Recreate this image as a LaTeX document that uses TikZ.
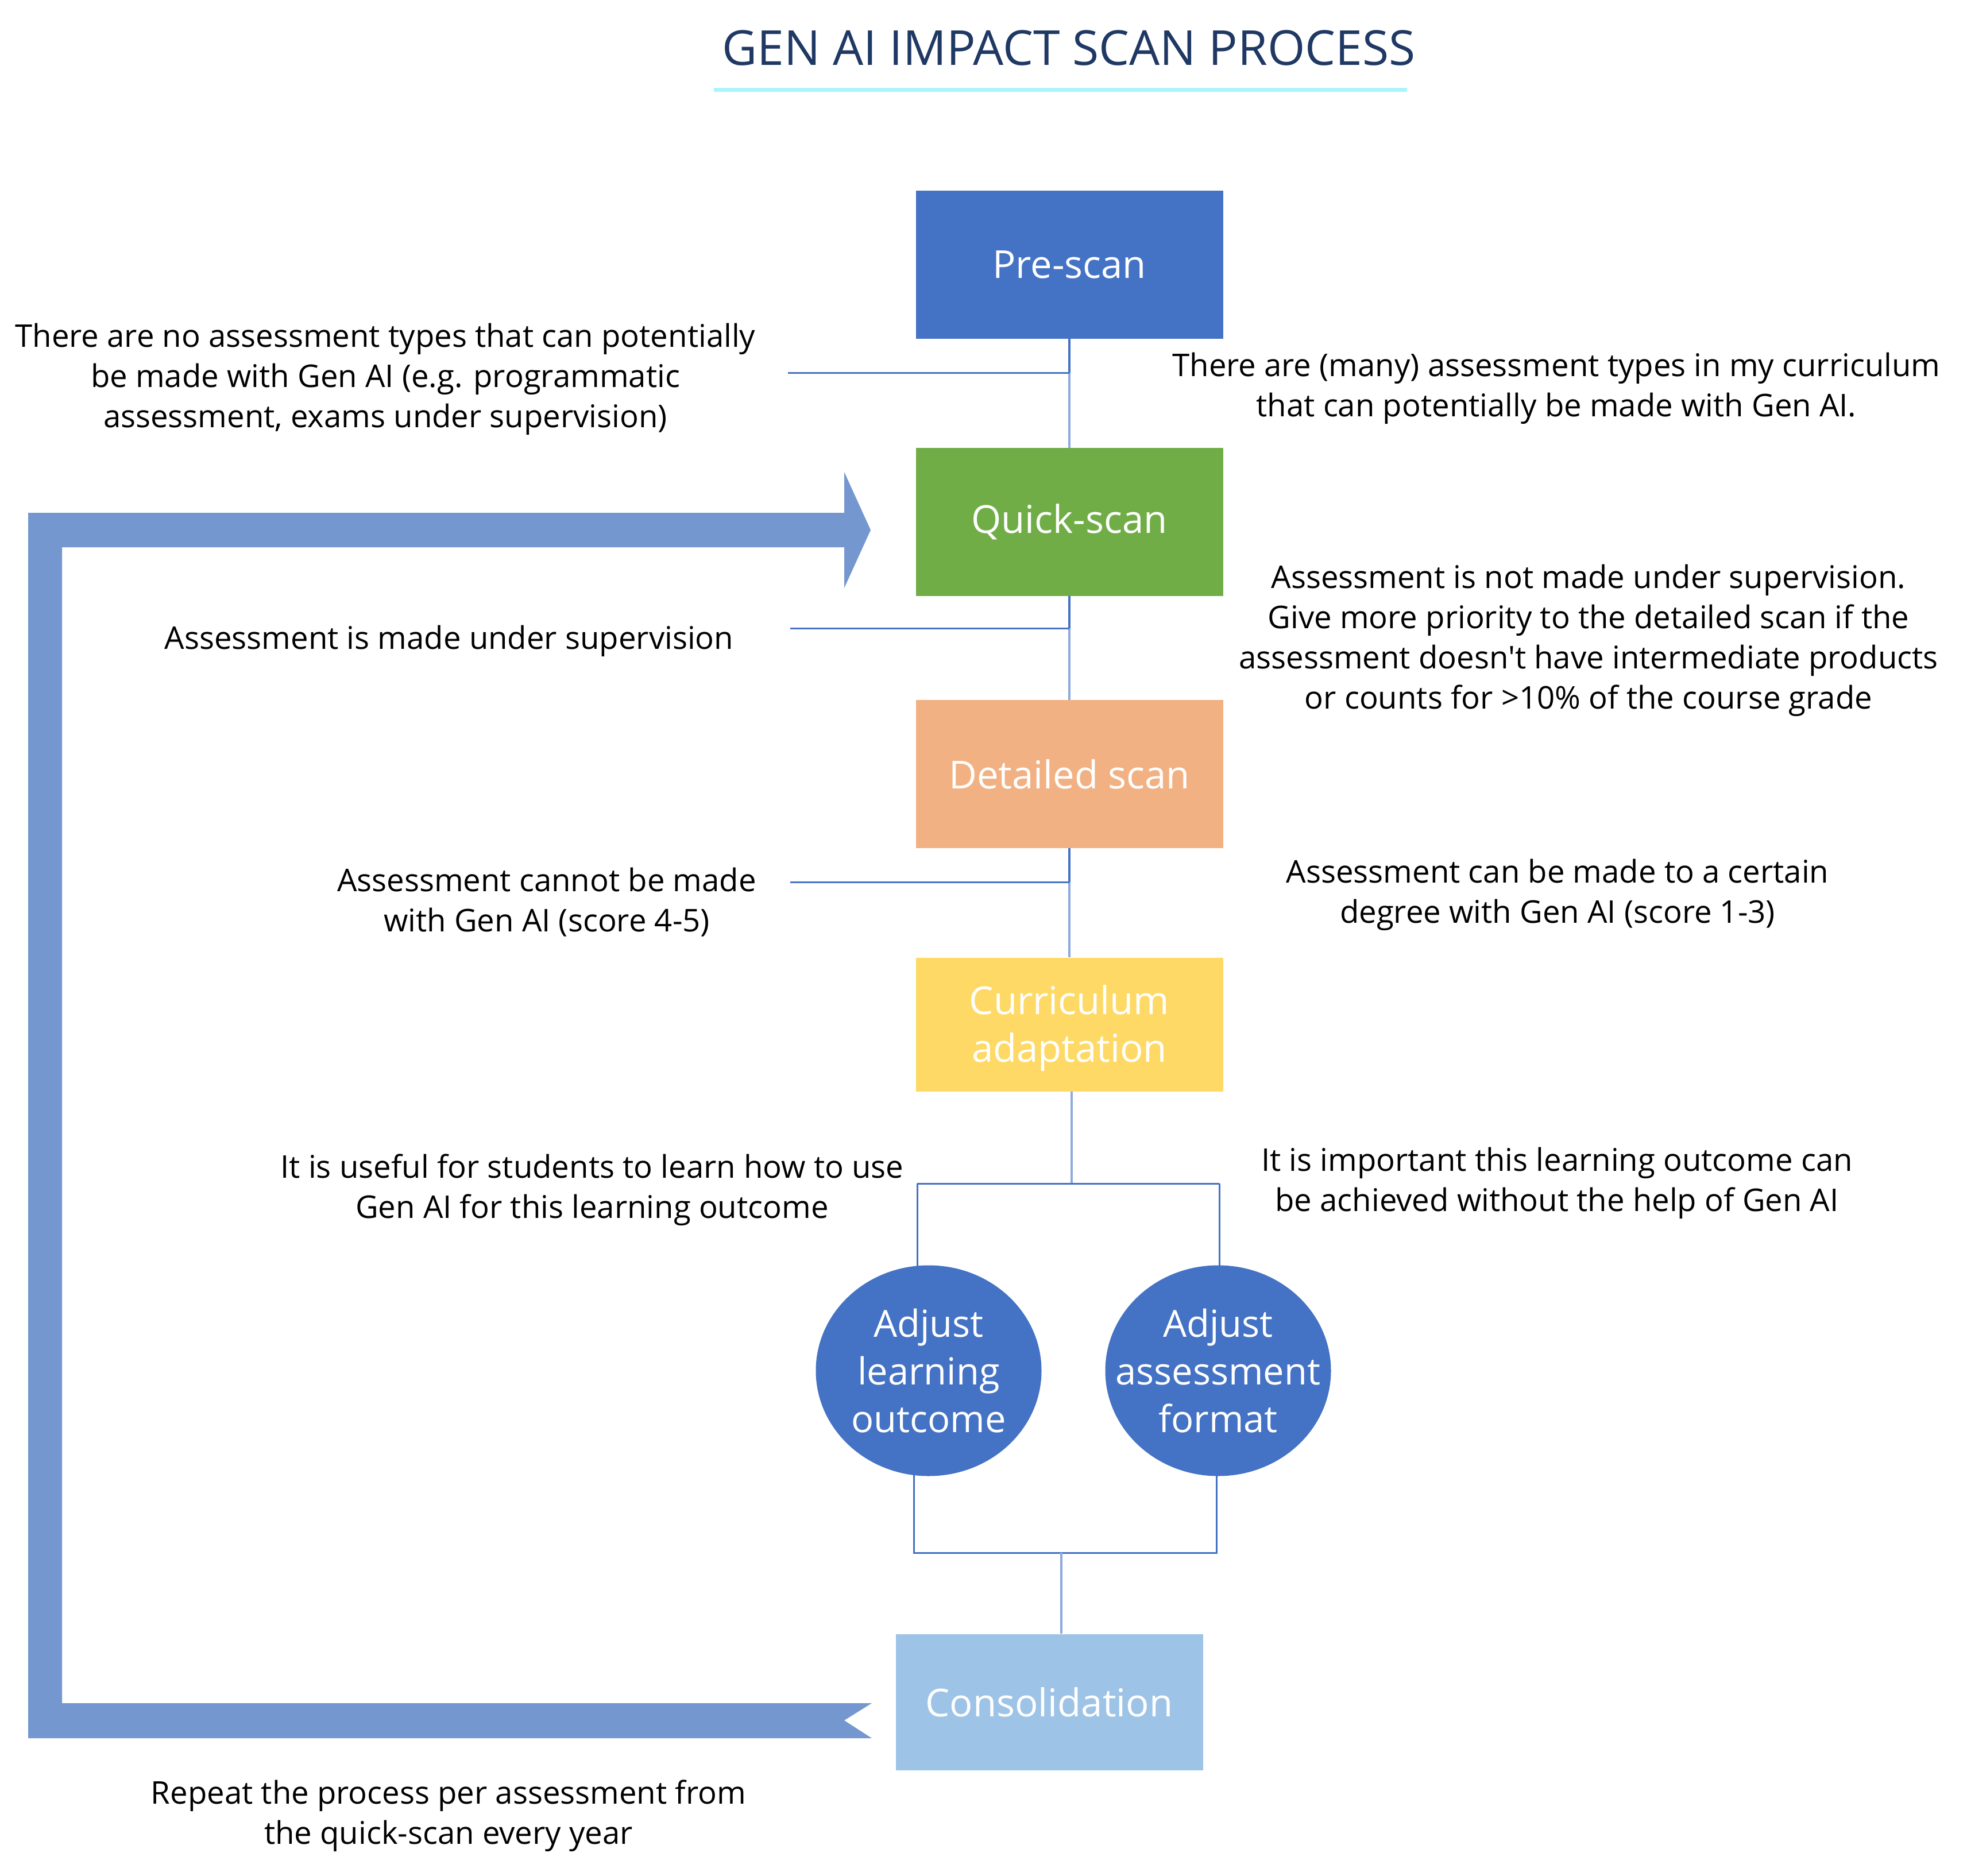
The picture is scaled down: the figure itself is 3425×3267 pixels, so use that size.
\documentclass[tikz,border=0pt]{standalone}
\usepackage{fontspec}
\setmainfont{Open Sans}[Ligatures=TeXOff]
\usetikzlibrary{shapes.geometric}
\definecolor{cblue}{RGB}{68,114,196}
\definecolor{cgreen}{RGB}{112,173,71}
\definecolor{corange}{RGB}{241,177,131}
\definecolor{cyellow}{RGB}{254,217,102}
\definecolor{clight}{RGB}{157,195,230}
\definecolor{carrow}{RGB}{117,151,208}
\definecolor{cline}{RGB}{143,170,220}
\definecolor{ctitle}{RGB}{31,56,100}
\definecolor{cunder}{RGB}{170,245,250}
\tikzset{
  procbox/.style={rectangle, draw=none, inner sep=0pt, minimum width=535pt, text=white, align=center, font=\fontsize{67}{83}\selectfont},
  adjcirc/.style={ellipse, draw=none, fill=cblue, inner xsep=-90pt, inner ysep=0pt, minimum width=393pt, minimum height=367pt, text=white, align=center, font=\fontsize{65}{83}\selectfont},
  note/.style={align=center, inner sep=0pt, text=black, font=\fontsize{54.5}{70}\selectfont},
  darkln/.style={draw=cblue, line width=4pt},
  lightln/.style={draw=cline, line width=4pt},
  sideln/.style={draw=cblue, line width=3pt},
}
\begin{document}
\begin{tikzpicture}[x=1pt,y=-1pt]
\useasboundingbox[fill=white] (0,0) rectangle (3425,3267);

% title
\node[anchor=base, inner sep=0pt, text=ctitle, font=\fontsize{84}{90}\selectfont] (title) at (1861,114) {GEN AI IMPACT SCAN PROCESS};
\coordinate (ul1) at (1243,157);
\coordinate (ul2) at (2450,157);
\draw[cunder, line width=7pt] (ul1) -- (ul2);

% loop arrow
\fill[carrow] (1518,2966) -- (1470,2996) -- (1518,3027) -- (49,3027) -- (49,893)
  -- (1470,893) -- (1470,822) -- (1516,923) -- (1470,1024) -- (1470,953)
  -- (108,953) -- (108,2966) -- cycle;

% boxes
\node[procbox, fill=cblue, minimum height=258pt] (pre) at (1862,461) {Pre-scan};
\node[procbox, fill=cgreen, minimum height=258pt] (quick) at (1862,909) {Quick-scan};
\node[procbox, fill=corange, minimum height=258pt] (det) at (1862,1348) {Detailed scan};
\node[procbox, fill=cyellow, minimum height=233pt] (cur) at (1862,1784) {};
\node[text=white, align=center, inner sep=0pt, font=\fontsize{67}{83}\selectfont] (curtext) at (1862,1791) {Curriculum\\adaptation};
\node[procbox, fill=clight, minimum height=237pt] (cons) at (1827,2964) {Consolidation};

% spine junctions
\coordinate (j1) at (1862,649);
\coordinate (j2) at (1862,1094);
\coordinate (j3) at (1862,1536);
\coordinate (s1) at (1372,649);
\coordinate (s2) at (1376,1094);
\coordinate (s3) at (1376,1536);
\draw[darkln] (pre.south) -- (j1);
\draw[lightln] (j1) -- (quick.north);
\draw[darkln] (quick.south) -- (j2);
\draw[lightln] (j2) -- (det.north);
\draw[darkln] (det.south) -- (j3);
\draw[lightln] (j3) -- (cur.north);
\draw[sideln] (s1) -- (j1);
\draw[sideln] (s2) -- (j2);
\draw[sideln] (s3) -- (j3);

% circle centres
\path (1617,2387) coordinate (aloc) (2121,2387) coordinate (aafc);

% fork to circles
\coordinate (fk) at (1866,2061);
\coordinate (fl) at (1597,2061);
\coordinate (fr) at (2123,2061);
\draw[lightln] (cur.south -| fk) -- (fk);
\draw[sideln] (fl) -- (fr);
\draw[sideln] (fl) -- (fl |- aloc);
\draw[sideln] (fr) -- (fr |- aafc);

% join from circles
\coordinate (gk) at (1848,2704);
\coordinate (gl) at (1591,2704);
\coordinate (gr) at (2118,2704);
\draw[sideln] (gl |- aloc) -- (gl) -- (gr) -- (gr |- aafc);
\draw[lightln] (gk) -- (gk |- cons.north);

\node[adjcirc] (alo) at (aloc) {Adjust\\learning\\outcome};
\node[adjcirc] (aaf) at (aafc) {Adjust\\assessment\\format};

% notes
\node[note] (n1) at (671,660) {There are no assessment types that can potentially\\be made with Gen AI (e.g. programmatic\\assessment, exams under supervision)};
\node[note] (n2) at (2710,676) {There are (many) assessment types in my curriculum\\that can potentially be made with Gen AI.};
\node[note] (n3) at (782,1116) {Assessment is made under supervision};
\node[note] (n4) at (2766,1115) {Assessment is not made under supervision.\\Give more priority to the detailed scan if the\\assessment doesn't have intermediate products\\or counts for >10\% of the course grade};
\node[note] (n5) at (952,1571) {Assessment cannot be made\\with Gen AI (score 4-5)};
\node[note] (n6) at (2712,1558) {Assessment can be made to a certain\\degree with Gen AI (score 1-3)};
\node[note] (n7) at (1031,2072) {It is useful for students to learn how to use\\Gen AI for this learning outcome};
\node[note] (n8) at (2711,2060) {It is important this learning outcome can\\be achieved without the help of Gen AI};
\node[note] (n9) at (781,3162) {Repeat the process per assessment from\\the quick-scan every year};
\end{tikzpicture}
\end{document}
